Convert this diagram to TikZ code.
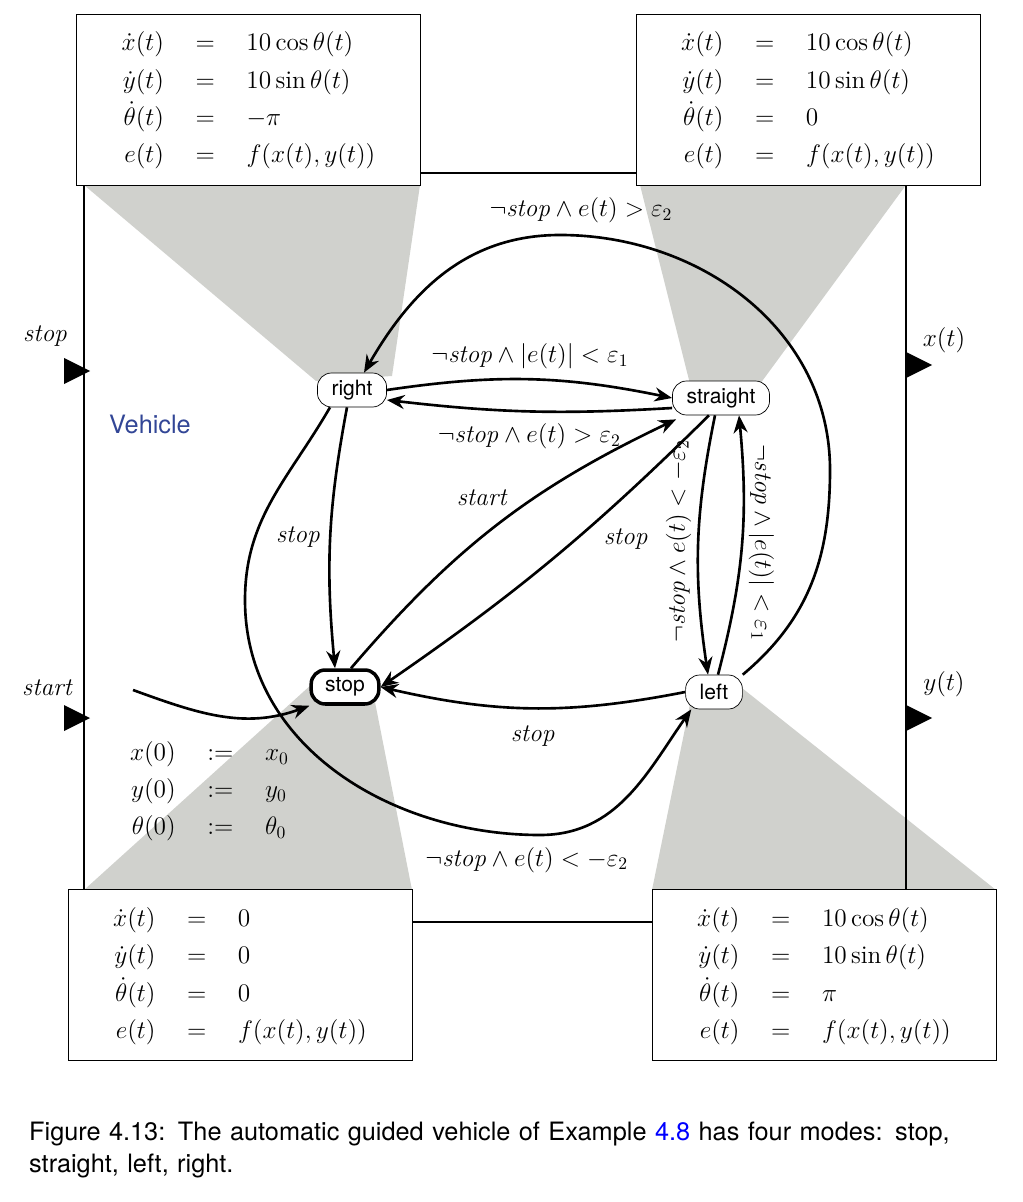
\documentclass[tikz,border=0pt]{standalone}
\usepackage{amsmath}
\usepackage{fontspec}
\setsansfont{TeX Gyre Heros}
\usepackage{tikz}
\usetikzlibrary{
  arrows,
  calc,
  positioning,
  shapes,
  arrows.meta
}
\definecolor{refgray}{RGB}{208,209,205}
\definecolor{vehblue}{RGB}{50,70,150}
\tikzset{
  mode/.style={draw,rounded corners=8pt,fill=white,font=\sffamily\large,
    inner xsep=8pt,minimum height=0.68cm},
  eqbox/.style={draw,fill=white,minimum width=6.88cm,minimum height=3.42cm,
    font=\Large},
  trans/.style={->,>={Stealth[length=10pt,width=8pt]},line width=1.5pt},
  port/.style={fill=black}
}
\newcommand{\nst}{\neg\mathit{stop}\wedge}
\begin{document}
\begin{tikzpicture}[x=0.02cm,y=-0.02cm]
  \useasboundingbox (0,0) rectangle (1022,1202);

  % refinement shading
  \fill[refgray] (84,185) -- (420,185) -- (392,376) -- (316,381) -- cycle;
  \fill[refgray] (640,185) -- (906,185) -- (760,384) -- (690,384) -- cycle;
  \fill[refgray] (84,890) -- (412,890) -- (375,702) -- (312,684) -- cycle;
  \fill[refgray] (652,890) -- (996,890) -- (742,688) -- (690,704) -- cycle;

  \draw[line width=0.8pt] (84,173) rectangle (906,922);
  \node[font=\sffamily\Large,text=vehblue] at (150,424) (Vehicle) {Vehicle};

  % ports
  \fill[port] (64,358) -- (90,371) -- (64,384) -- cycle;
  \fill[port] (64,705) -- (90,718) -- (64,731) -- cycle;
  \fill[port] (906,352) -- (932,365) -- (906,378) -- cycle;
  \fill[port] (906,705) -- (932,718) -- (906,731) -- cycle;
  \node[font=\Large] at (45,336) (stop in) {$\mathit{stop}$};
  \node[font=\Large] at (47,688) (start in) {$\mathit{start}$};
  \node[font=\Large] at (944,340) (x out) {$x(t)$};
  \node[font=\Large] at (944,684) (y out) {$y(t)$};

  % mode equations
  \renewcommand{\arraystretch}{1.18}
  \setlength{\arraycolsep}{9pt}
  \node[eqbox] at (248.5,99.5) (Right Eq) {$\begin{array}{rcl}
    \dot{x}(t) & = & 10\cos\theta(t)\\ \dot{y}(t) & = & 10\sin\theta(t)\\
    \dot{\theta}(t) & = & -\pi\\ e(t) & = & f(x(t),y(t))\end{array}$};
  \node[eqbox] at (808,99.5) (Straight Eq) {$\begin{array}{rcl}
    \dot{x}(t) & = & 10\cos\theta(t)\\ \dot{y}(t) & = & 10\sin\theta(t)\\
    \dot{\theta}(t) & = & 0\\ e(t) & = & f(x(t),y(t))\end{array}$};
  \node[eqbox] at (240,975) (Stop Eq) {$\begin{array}{rcl}
    \dot{x}(t) & = & 0\\ \dot{y}(t) & = & 0\\
    \dot{\theta}(t) & = & 0\\ e(t) & = & f(x(t),y(t))\end{array}$};
  \node[eqbox] at (824,975) (Left Eq) {$\begin{array}{rcl}
    \dot{x}(t) & = & 10\cos\theta(t)\\ \dot{y}(t) & = & 10\sin\theta(t)\\
    \dot{\theta}(t) & = & \pi\\ e(t) & = & f(x(t),y(t))\end{array}$};

  % modes
  \node[mode] at (352,390) (Right) {right};
  \node[mode] at (721,398) (Straight) {straight};
  \node[mode,line width=2pt] at (345,687) (Stop) {stop};
  \node[mode] at (714,692) (Left) {left};

  % initial state
  \coordinate (Init) at (133,690);
  \draw[trans] (Init) to[out=-20,in=200] (Stop.south west);
  \node[font=\Large,anchor=north west] at (108,728) (Init Eq) {$\begin{array}{rcl}
    x(0) & := & x_0\\ y(0) & := & y_0\\ \theta(0) & := & \theta_0\end{array}$};

  % transitions
  \draw[trans] (Right.east) to[bend left=10]
    node[above=2pt,font=\Large] {$\nst|e(t)|<\varepsilon_1$} (Straight.west);
  \draw[trans] ($(Straight.west)+(0,10)$) to[bend left=5]
    node[below=3pt,font=\Large] {$\nst e(t)>\varepsilon_2$} ($(Right.east)+(0,10)$);
  \draw[trans] (Left.north east) to[out=40,in=-90] (830,470) to[out=90,in=0]
    node[above=3pt,font=\Large,pos=0.95] {$\nst e(t)>\varepsilon_2$} (560,235)
    to[out=180,in=60] ($(Right.north)+(12,0)$);
  \draw[trans] ($(Right.south)+(-22,0)$) to[out=-120,in=90] (245,600)
    to[out=-90,in=180] node[below=3pt,font=\Large,pos=0.97] {$\nst e(t)<-\varepsilon_2$}
    (540,835) to[out=0,in=-125] ($(Left.south west)+(6,0)$);
  \draw[trans] ($(Right.south)+(-5,0)$) to[bend right=8]
    node[left=2pt,font=\Large] {$\mathit{stop}$} ($(Stop.north)+(-10,0)$);
  \draw[trans] ($(Stop.north)+(6,0)$) to[bend left=12]
    node[above left,font=\Large,pos=0.55] {$\mathit{start}$} ($(Straight.south west)+(4,4)$);
  \draw[trans] ($(Straight.south)+(-12,0)$) to[bend left=5]
    node[below right,font=\Large,pos=0.35] {$\mathit{stop}$} (Stop.east);
  \draw[trans] ($(Straight.south)+(-6,0)$) to[bend right=10]
    node[rotate=90,above=2pt,font=\Large,pos=0.5] {$\nst e(t)<-\varepsilon_2$} ($(Left.north)+(-6,0)$);
  \draw[trans] ($(Left.north)+(4,0)$) to[bend right=10]
    node[rotate=-90,above=2pt,font=\Large,pos=0.5] {$\nst|e(t)|<\varepsilon_1$} ($(Straight.south)+(18,0)$);
  \draw[trans] (Left.west) to[bend left=12]
    node[below=6pt,font=\Large] {$\mathit{stop}$} (Stop.east);

  % caption
  \node[anchor=north west,text width=19.6cm,align=left,font=\sffamily\Large]
    at (23,1116) (Caption) {Figure 4.13: The automatic guided vehicle of Example
    \textcolor{blue}{4.8} has four modes: stop, straight, left, right.};
\end{tikzpicture}
\end{document}
